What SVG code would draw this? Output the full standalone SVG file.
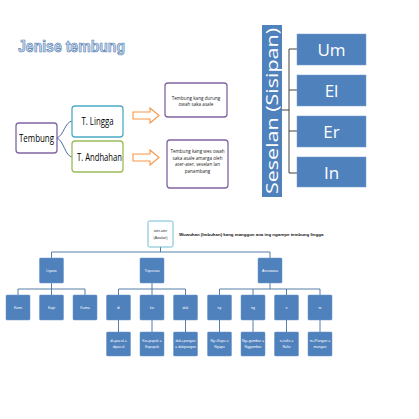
<svg xmlns="http://www.w3.org/2000/svg" width="419" height="419" viewBox="0 0 419 419">
<style>
  .t { font-family: "Liberation Sans", "Open Sans", sans-serif; }
  .rb { fill: #fff; stroke-width: 1.3; }
  .lbl { font-family: "Open Sans", "Liberation Sans", sans-serif; font-size: 11px; fill: #000; text-anchor: middle; }
  .desc { font-family: "Open Sans", "Liberation Sans", sans-serif; font-size: 4.6px; fill: #222; text-anchor: middle; }
  .sq { fill: #4f81bd; stroke: #7aa0cf; stroke-width: 0.5; }
  .sqt { font-family: "Open Sans", "Liberation Sans", sans-serif; fill: #fff; text-anchor: middle; }
  .tn { fill: #4f81bd; stroke: #6d94c6; stroke-width: 0.5; }
  .tt { font-family: "Liberation Sans", sans-serif; font-size: 3.6px; fill: #fff; text-anchor: middle; }
  .conn { fill: none; stroke: #41719c; stroke-width: 0.9; }
  .brk { fill: none; stroke: #404040; stroke-width: 1; }
  .arr { fill: #fff; stroke: #f79646; stroke-width: 1.1; }
  .cv { fill: none; stroke: #4a6fa0; stroke-width: 1; }
</style>
<rect width="419" height="419" fill="#fff"/>

<text id="title" class="t" x="18" y="52" font-size="17" font-weight="bold" fill="#c6d9f1" stroke="#5a7fae" stroke-width="0.7" textLength="107" lengthAdjust="spacingAndGlyphs">Jenise tembung</text>

<g id="connectors">
  <path class="cv" d="M57,138 C64,135 65,122 72,121"/>
  <path class="cv" d="M57,138 C64,141 65,156 72,157"/>
  <path class="brk" d="M282,110 H289 M289,49 V173 M289,49 H297 M289,90 H297 M289,131 H297 M289,173 H297"/>
  <path class="conn" d="M160.5,247 V252 M51.5,258 V252 H270 V258"/>
  <path class="conn" d="M51.5,283 V289 M18,295 V289 H85 V295 M51.5,289 V295"/>
  <path class="conn" d="M152,283 V289 M118.5,295 V289 H185.5 V295 M152,289 V295"/>
  <path class="conn" d="M270,283 V289 M219.5,295 V289 H320 V295 M253,289 V295 M286.5,289 V295"/>
  <path class="conn" d="M118.5,320 V332 M152,320 V332 M185.5,320 V332 M219.5,320 V332 M253,320 V332 M286.5,320 V332 M320,320 V332"/>
</g>

<g id="tembung">
  <rect class="rb" x="16" y="123" width="41" height="30" rx="3" stroke="#8064a2"/>
  <text class="lbl" x="36.5" y="142" textLength="35" lengthAdjust="spacingAndGlyphs">Tembung</text>
</g>
<g id="t-lingga">
  <rect class="rb" x="72" y="106" width="51" height="31" rx="3" stroke="#4bacc6"/>
  <text class="lbl" x="97.5" y="125" textLength="32" lengthAdjust="spacingAndGlyphs">T. Lingga</text>
</g>
<g id="t-andhahan">
  <rect class="rb" x="72" y="141" width="51" height="31" rx="3" stroke="#9bbb59"/>
  <text class="lbl" x="99.5" y="160.5" textLength="45" lengthAdjust="spacingAndGlyphs">T. Andhahan</text>
</g>
<g id="arrow1">
  <path class="arr" d="M133,112 H150 V108 L159,115.5 L150,123 V119 H133 Z"/>
</g>
<g id="arrow2">
  <path class="arr" d="M133,154 H150 V150 L159,157.5 L150,165 V161 H133 Z"/>
</g>
<g id="desc-lingga">
  <rect class="rb" x="165" y="83" width="62" height="34" rx="3" stroke="#8064a2"/>
  <text class="desc" x="196" y="99.5">Tembung kang durung</text>
  <text class="desc" x="196" y="106">owah saka asale</text>
</g>
<g id="desc-andhahan">
  <rect class="rb" x="167" y="140" width="61" height="48" rx="3" stroke="#8064a2"/>
  <text class="desc" x="197.5" y="153">Tembung kang wes owah</text>
  <text class="desc" x="197.5" y="159.5">saka asale amarga oleh</text>
  <text class="desc" x="197.5" y="166">ater-ater, seselan lan</text>
  <text class="desc" x="197.5" y="172.5">panambang</text>
</g>

<g id="seselan">
  <rect x="262" y="25" width="20" height="172" fill="#4f81bd"/>
  <text class="sqt" transform="translate(278,111) rotate(-90)" font-size="16.5" textLength="166" lengthAdjust="spacingAndGlyphs">Seselan (Sisipan)</text>
</g>
<g id="um"><rect class="sq" x="297" y="34" width="69" height="31"/><text class="sqt" x="331.5" y="56" font-size="17">Um</text></g>
<g id="el"><rect class="sq" x="297" y="75" width="69" height="31"/><text class="sqt" x="331.5" y="97" font-size="17">El</text></g>
<g id="er"><rect class="sq" x="297" y="116" width="69" height="31"/><text class="sqt" x="331.5" y="138" font-size="17">Er</text></g>
<g id="in"><rect class="sq" x="297" y="157" width="69" height="30"/><text class="sqt" x="331.5" y="178.5" font-size="17">In</text></g>

<g id="ater-ater">
  <rect x="148" y="221" width="25" height="26" rx="1.5" fill="#fff" stroke="#4bacc6" stroke-width="0.8"/>
  <text class="tt" x="160.5" y="232" style="fill:#333">ater-ater</text>
  <text class="tt" x="160.5" y="239" style="fill:#333">(Awalan)</text>
</g>
<text id="caption" x="179" y="235.5" font-family="Liberation Sans, sans-serif" font-size="4.4" font-weight="bold" fill="#111">Wuwuhan (Imbuhan) kang manggon ana ing ngarepe tembung lingga</text>

<g id="liyane"><rect class="tn" x="39.5" y="258" width="24" height="25" rx="1"/><text class="tt" x="51.5" y="272">Liyane</text></g>
<g id="tripurusa"><rect class="tn" x="140" y="258" width="24" height="25" rx="1"/><text class="tt" x="152" y="272">Tripurusa</text></g>
<g id="anuswara"><rect class="tn" x="258" y="258" width="24" height="25" rx="1"/><text class="tt" x="270" y="272">Anuswara</text></g>

<g id="kami"><rect class="tn" x="6" y="295" width="24" height="25" rx="1"/><text class="tt" x="18" y="309">Kami</text></g>
<g id="kapi"><rect class="tn" x="39.5" y="295" width="24" height="25" rx="1"/><text class="tt" x="51.5" y="309">Kapi</text></g>
<g id="kuma"><rect class="tn" x="73" y="295" width="24" height="25" rx="1"/><text class="tt" x="85" y="309">Kuma</text></g>
<g id="di"><rect class="tn" x="106.5" y="295" width="24" height="25" rx="1"/><text class="tt" x="118.5" y="309">di</text></g>
<g id="ko"><rect class="tn" x="140" y="295" width="24" height="25" rx="1"/><text class="tt" x="152" y="309">ko</text></g>
<g id="dak"><rect class="tn" x="173.5" y="295" width="24" height="25" rx="1"/><text class="tt" x="185.5" y="309">dak</text></g>
<g id="ny"><rect class="tn" x="207.5" y="295" width="24" height="25" rx="1"/><text class="tt" x="219.5" y="309">ny</text></g>
<g id="ng"><rect class="tn" x="241" y="295" width="24" height="25" rx="1"/><text class="tt" x="253" y="309">ng</text></g>
<g id="n"><rect class="tn" x="274.5" y="295" width="24" height="25" rx="1"/><text class="tt" x="286.5" y="309">n</text></g>
<g id="m"><rect class="tn" x="308" y="295" width="24" height="25" rx="1"/><text class="tt" x="320" y="309">m</text></g>

<g id="dipacul"><rect class="tn" x="106.5" y="332" width="24" height="24" rx="1"/><text class="tt" x="118.5" y="342">di+pacul =</text><text class="tt" x="118.5" y="347.5">dipacul</text></g>
<g id="kopupuk"><rect class="tn" x="140" y="332" width="24" height="24" rx="1"/><text class="tt" x="152" y="342">Ko+pupuk =</text><text class="tt" x="152" y="347.5">Kopupuk</text></g>
<g id="dakpangan"><rect class="tn" x="173.5" y="332" width="24" height="24" rx="1"/><text class="tt" x="185.5" y="342">dak+pangan</text><text class="tt" x="185.5" y="347.5">= dakpangan</text></g>
<g id="nyapu"><rect class="tn" x="207.5" y="332" width="24" height="24" rx="1"/><text class="tt" x="219.5" y="342">Ny+Sapu =</text><text class="tt" x="219.5" y="347.5">Nyapu</text></g>
<g id="nggambar"><rect class="tn" x="241" y="332" width="24" height="24" rx="1"/><text class="tt" x="253" y="342">Ng+gambar =</text><text class="tt" x="253" y="347.5">Nggambar</text></g>
<g id="nulis"><rect class="tn" x="274.5" y="332" width="24" height="24" rx="1"/><text class="tt" x="286.5" y="342">n+tulis =</text><text class="tt" x="286.5" y="347.5">Nulis</text></g>
<g id="mangan"><rect class="tn" x="308" y="332" width="24" height="24" rx="1"/><text class="tt" x="320" y="342">m+Pangan =</text><text class="tt" x="320" y="347.5">mangan</text></g>
</svg>
